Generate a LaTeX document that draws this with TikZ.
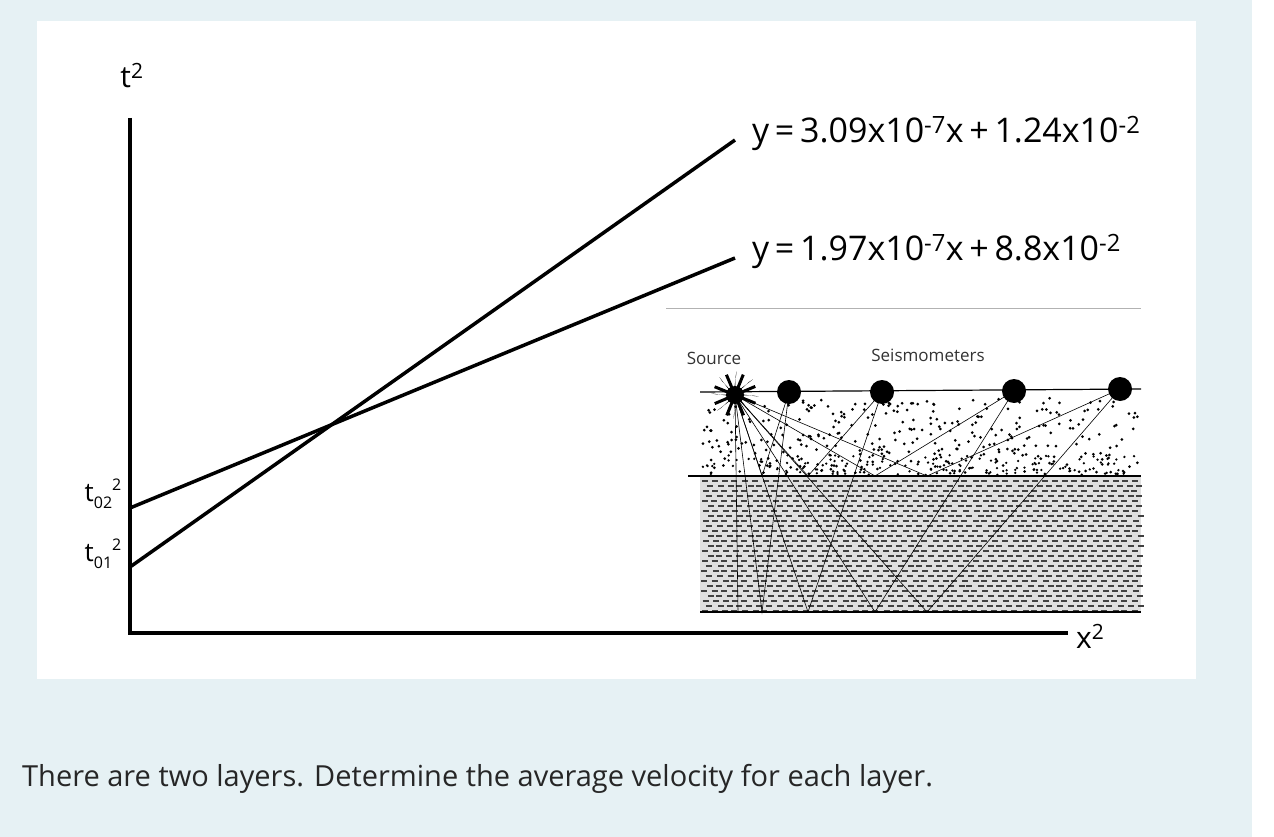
\documentclass[tikz,border=0pt]{standalone}
\usepackage{fontspec}
\setmainfont{Open Sans}
\begin{document}
\begin{tikzpicture}[x=1pt,y=-1pt,
  thick line/.style={line width=3.5pt,black},
  ray/.style={line width=0.6pt,black},
  lbl/.style={inner sep=0pt,anchor=west,font=\fontsize{34}{36}\selectfont}]
\definecolor{bgc}{HTML}{E6F1F4}
\useasboundingbox (0,0) rectangle (1274,837);
\fill[white] (0,0) rectangle (1274,837);
\fill[bgc] (0,0) rectangle (1252,837);
\fill[white] (37,21) rectangle (1196,679);
% axes
\coordinate (o) at (130,633);
\coordinate (ytop) at (130,118);
\coordinate (xend) at (1068,633);
\draw[thick line] (ytop) -- (o) -- (xend);
\node[inner sep=0pt,font=\fontsize{30}{32}\selectfont] (tl) at (132,76) {t\textsuperscript{2}};
\node[inner sep=0pt,anchor=west,font=\fontsize{30}{32}\selectfont] (xl) at (1076,636) {x\textsuperscript{2}};
% lines
\coordinate (a1) at (130,567); \coordinate (a2) at (735,140);
\coordinate (b1) at (130,508); \coordinate (b2) at (735,258);
\draw[thick line] (a1) -- (a2);
\draw[thick line] (b1) -- (b2);
\node[lbl] (e1) at (752,133) {y\,=\,3.09x10\textsuperscript{-7}x\,+\,1.24x10\textsuperscript{-2}};
\node[lbl] (e2) at (752,251) {y\,=\,1.97x10\textsuperscript{-7}x\,+\,8.8x10\textsuperscript{-2}};
\node[inner sep=0pt,font=\fontsize{26}{28}\selectfont] (t02) at (103,494) {t\raisebox{-7pt}{\fontsize{16}{16}\selectfont 02}\raisebox{11pt}{\fontsize{16}{16}\selectfont 2}};
\node[inner sep=0pt,font=\fontsize{26}{28}\selectfont] (t01) at (103,554) {t\raisebox{-7pt}{\fontsize{16}{16}\selectfont 01}\raisebox{11pt}{\fontsize{16}{16}\selectfont 2}};
% inset
\draw[gray!60,line width=1pt] (666,308) -- (1141,308);
\node[inner sep=0pt,font=\fontsize{17}{19}\selectfont\color{black!80}] (src) at (714,358) {Source};
\node[inner sep=0pt,font=\fontsize{17}{19}\selectfont\color{black!80}] (sm) at (928,355) {Seismometers};
% layer 2 dashes
\fill[gray!25] (700,477) rectangle (1141,612);
\pgfmathsetseed{7}
\foreach \r in {0,...,26}{
  \foreach \c in {0,...,43}{
    \pgfmathsetmacro{\xx}{702+\c*10+mod(\r,2)*5+rand*1.5}
    \pgfmathsetmacro{\yy}{481+\r*5}
    \draw[black!75,line width=1.1pt] (\xx,\yy) -- ++(6,0);
  }}
% layer 1 dots
\foreach \i in {1,...,330}{
  \pgfmathsetmacro{\xx}{702+rnd*437}
  \pgfmathsetmacro{\yy}{398+rnd*76}
  \fill[black] (\xx,\yy) circle (1.5pt);
}
\foreach \i in {1,...,150}{
  \pgfmathsetmacro{\xx}{702+rnd*437}
  \pgfmathsetmacro{\yy}{455+rnd*20}
  \fill[black] (\xx,\yy) circle (1.3pt);
}
\draw[line width=1.6pt] (688,476) -- (1141,476);
\draw[line width=1.2pt] (700,612) -- (1141,612);
\draw[line width=1.2pt] (700,392) -- (1141,389);
% source & seismometers
\coordinate (S) at (735,395);
\foreach \n/\x/\y in {r1/789/392,r2/882/392,r3/1014/391,r4/1120/389}{
  \coordinate (\n) at (\x,\y);}
\foreach \n/\u/\d in {r1/762/762,r2/808/808,r3/875/875,r4/927/927}{
  \draw[ray] (S) -- (\u,476) -- (\n);
  \draw[ray] (S) -- (\d,612) -- (\n);
}
\draw[ray] (S) -- (738,612);
\foreach \n in {r1,r2,r3,r4}{\fill[black] (\n) circle (12pt);}
\foreach \k in {0,...,7}{\fill[black] (S) -- ++(\k*45-8:6) -- ++(\k*45+8:18) -- ++(\k*45+12:-5) -- cycle;}
\foreach \k in {0,45,...,315}{\draw[line width=3pt] (S) -- ++(\k+22:22);}
\fill[black] (S) circle (9pt);
% caption
\node[inner sep=0pt,anchor=west,font=\fontsize{29}{31}\selectfont\color{black!85}] (cap) at (22,779) {There are two layers. Determine the average velocity for each layer.};
\end{tikzpicture}
\end{document}
